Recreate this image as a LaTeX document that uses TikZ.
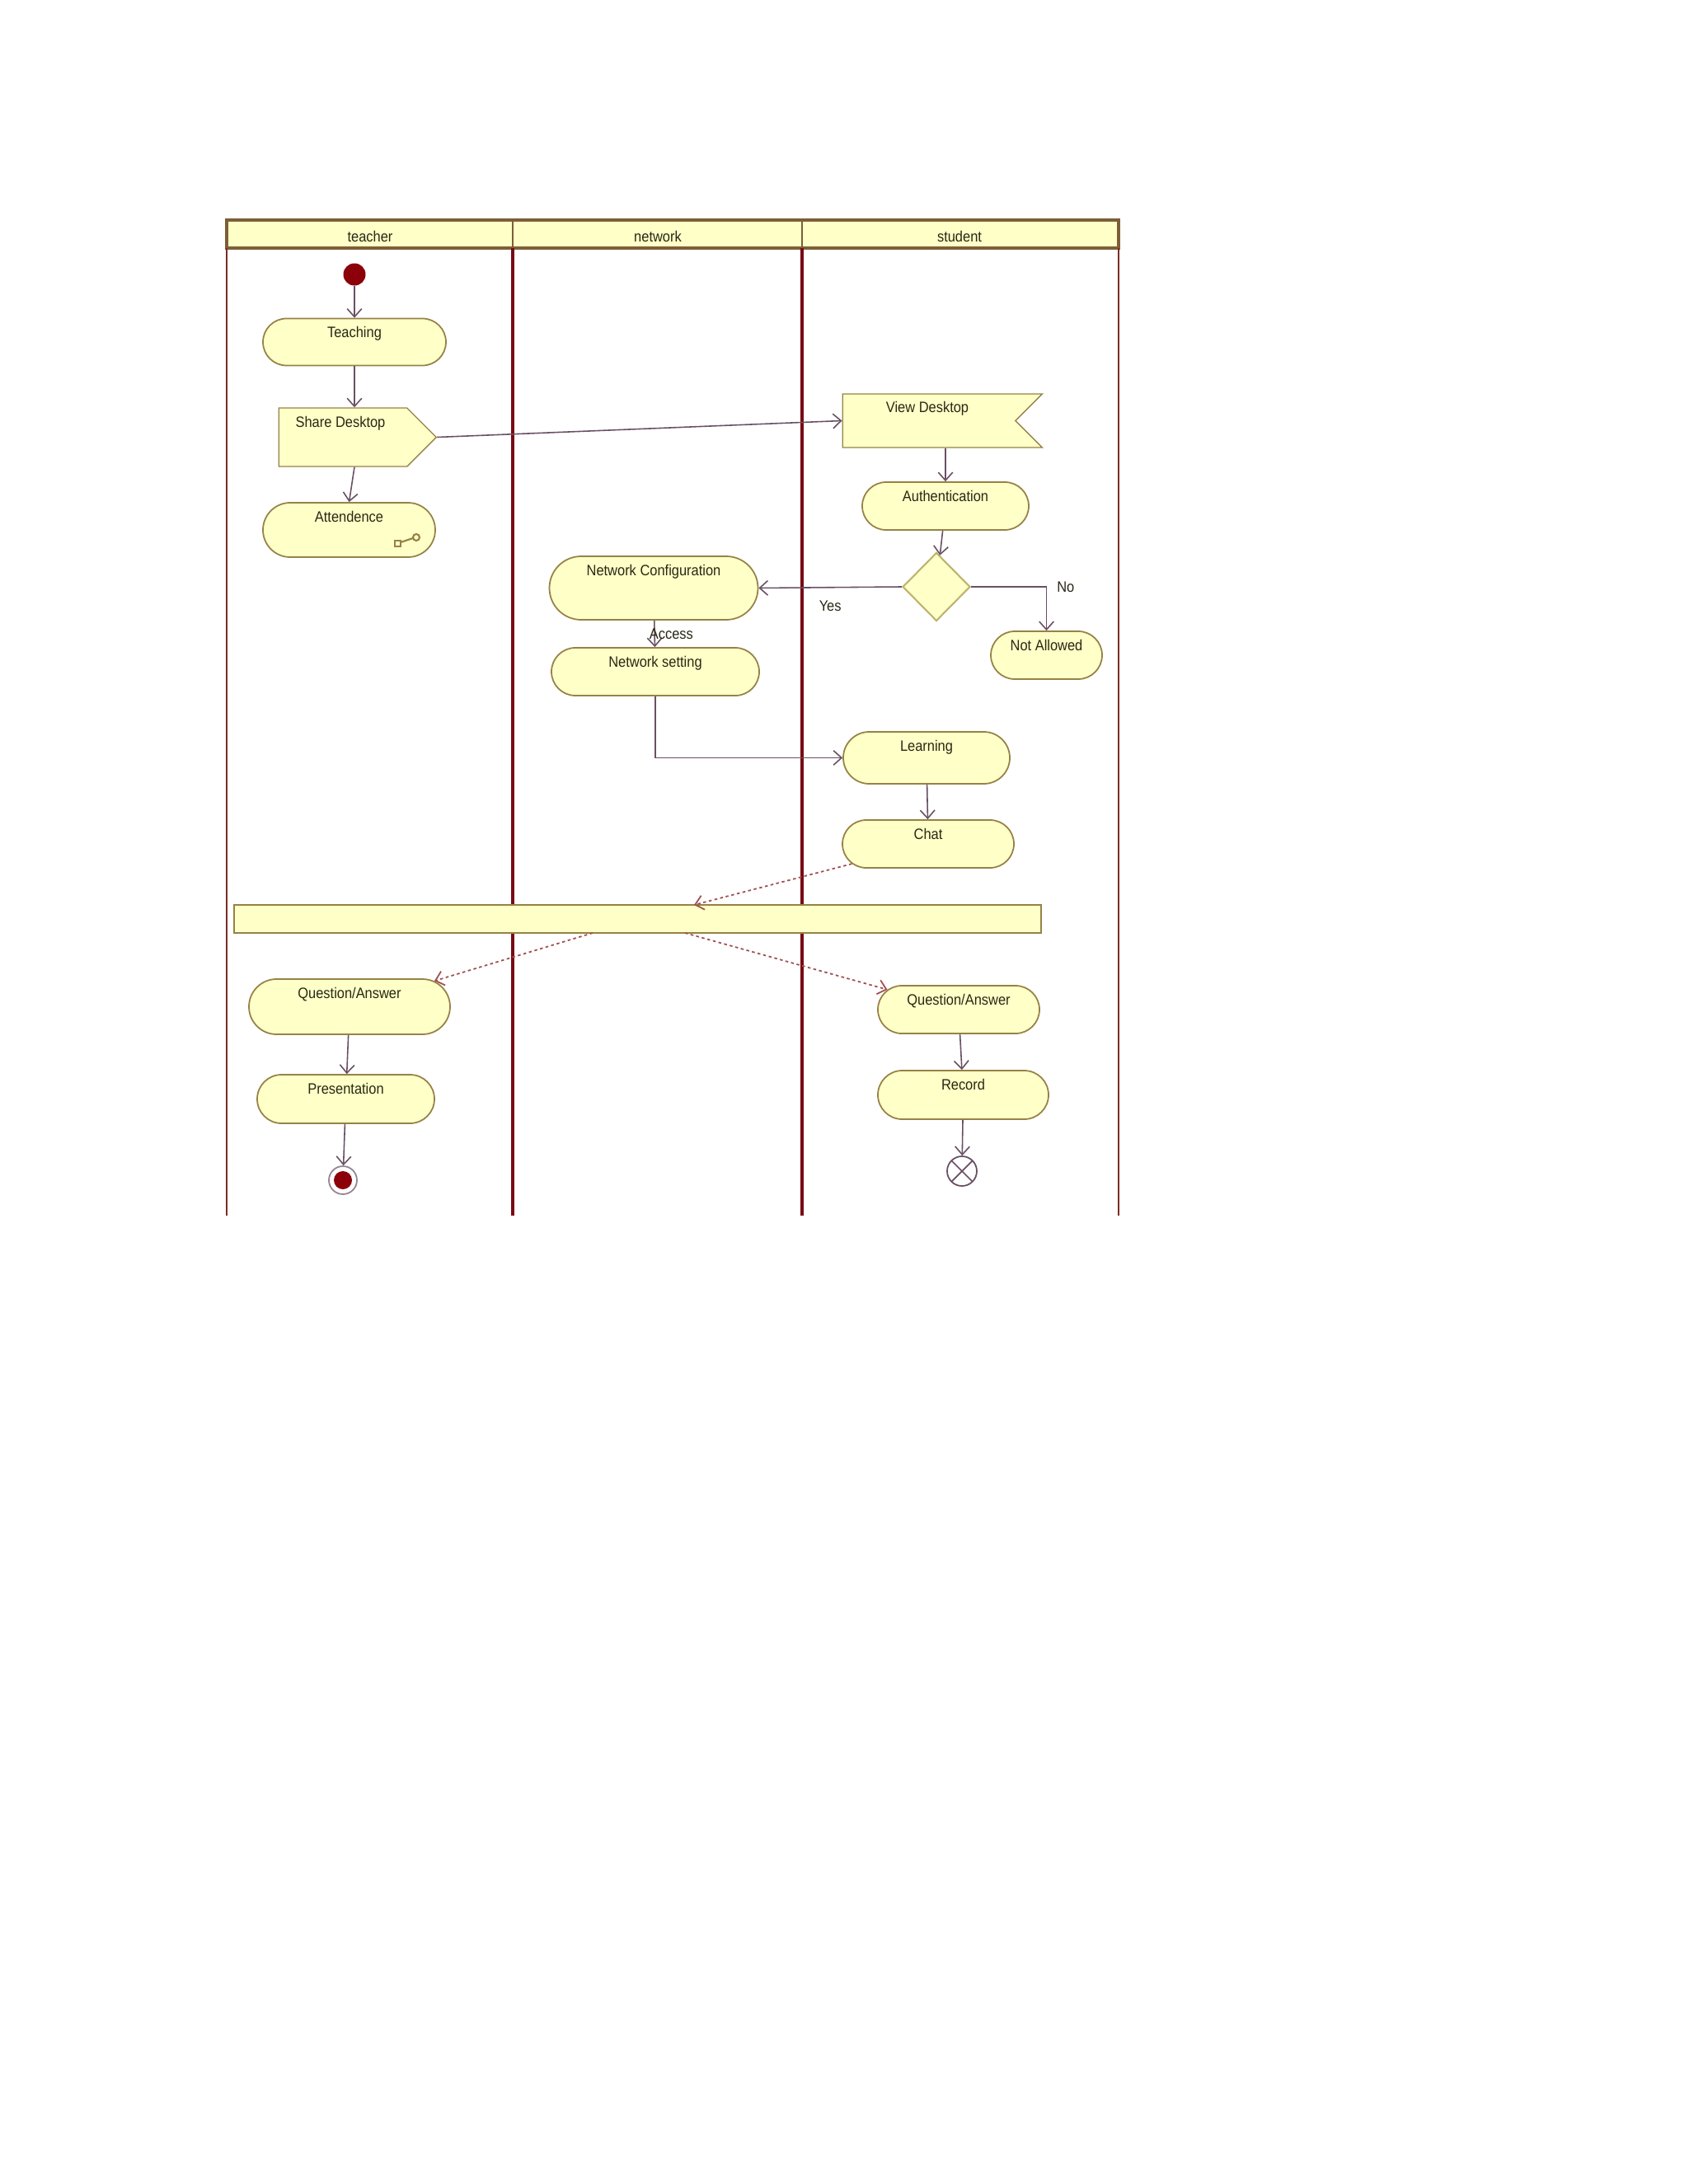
\documentclass[tikz,border=0pt]{standalone}
\usepackage{fontspec}
\setmainfont{Liberation Sans}[FakeStretch=0.9]
\usepackage{xcolor}
\usetikzlibrary{shapes.misc,shapes.symbols,shapes.geometric,arrows.meta}

\definecolor{actfill}{RGB}{255,255,200}
\definecolor{actline}{RGB}{150,130,70}
\definecolor{decline}{RGB}{190,180,110}
\definecolor{laneline}{RGB}{120,10,20}
\definecolor{headline}{RGB}{125,95,55}
\definecolor{flowline}{RGB}{105,80,100}
\definecolor{dashline}{RGB}{160,80,80}
\definecolor{startred}{RGB}{140,0,10}
\definecolor{txt}{RGB}{40,40,20}

\newcommand{\umlfont}{\fontsize{5.2}{6}\selectfont}

\tikzset{
    act/.style={rounded rectangle, draw=actline, fill=actfill, inner sep=0pt, line width=0.5pt},
    acttext/.style={anchor=north, inner sep=0pt, yshift=-0.1cm, font=\umlfont, text=txt},
    lbl/.style={inner sep=0pt, font=\umlfont, text=txt},
    flow/.style={draw=flowline, line width=0.45pt, -{Straight Barb[length=2.8pt,width=5pt]}},
    dflow/.style={draw=dashline, line width=0.5pt, dash pattern=on 1pt off 1pt, -{Straight Barb[length=2.8pt,width=5pt]}}
}

\begin{document}
\begin{tikzpicture}[x=1cm, y=-1cm]
        \useasboundingbox[fill=white] (0,0) rectangle (20.48,26.50);

        % swimlanes
        \draw[headline, line width=0.9pt, fill=actfill] (2.75,2.67) rectangle (13.57,3.01);
        \draw[headline, line width=0.7pt] (6.22,2.67) -- (6.22,3.01);
        \draw[headline, line width=0.7pt] (9.73,2.67) -- (9.73,3.01);
        \node (thead) at (4.49,2.87) [lbl] {teacher};
        \node (nhead) at (7.98,2.87) [lbl] {network};
        \node (shead) at (11.64,2.87) [lbl] {student};

        \draw[laneline!60!headline, line width=0.6pt] (2.75,3.01) -- (2.75,14.75);
        \draw[laneline!60!headline, line width=0.6pt] (13.57,3.01) -- (13.57,14.75);
        \draw[laneline, line width=1.4pt] (6.22,3.01) -- (6.22,14.75);
        \draw[laneline, line width=1.4pt] (9.73,3.01) -- (9.73,14.75);

        % teacher
        \node (init) at (4.30,3.33) [circle, fill=startred, minimum size=0.27cm, inner sep=0pt] {};
        \node (teach) at (4.30,4.15) [act, minimum width=2.22cm, minimum height=0.57cm, label={[acttext]north:Teaching}] {};
        \node (share) at (4.16,5.305) [signal, signal to=east, draw=actline, fill=actfill, inner sep=0pt,
            minimum width=1.91cm, minimum height=0.71cm, label={[acttext, xshift=-0.03cm]north:Share Desktop}] {};
        \node (attend) at (4.235,6.43) [act, minimum width=2.09cm, minimum height=0.66cm, label={[acttext]north:Attendence}] {};
        \draw[actline, line width=0.6pt] (4.79,6.56) rectangle (4.86,6.63);
        \draw[actline, line width=0.6pt] (5.05,6.52) circle (0.04cm);
        \draw[actline, line width=0.6pt] (4.86,6.58) -- (5.01,6.53);

        % student
        \node (view) at (11.27,5.105) [signal, signal to=nowhere, signal from=east, draw=actline, fill=actfill, inner sep=0pt,
            minimum width=2.42cm, minimum height=0.65cm, label={[acttext, yshift=0.01cm, xshift=-0.02cm]north:View Desktop}] {};
        \node (auth) at (11.47,6.14) [act, minimum width=2.02cm, minimum height=0.58cm, label={[acttext]north:Authentication}] {};
        \node (dec) at (11.36,7.12) [diamond, draw=decline, fill=actfill, line width=0.6pt, inner sep=0pt,
            minimum width=0.82cm, minimum height=0.83cm] {};
        \node (notal) at (12.695,7.95) [act, minimum width=1.35cm, minimum height=0.58cm, label={[acttext]north:Not Allowed}] {};
        \node (learn) at (11.24,9.195) [act, minimum width=2.02cm, minimum height=0.63cm, label={[acttext]north:Learning}] {};
        \node (chat) at (11.26,10.24) [act, minimum width=2.08cm, minimum height=0.58cm, label={[acttext]north:Chat}] {};

        % network
        \node (netconf) at (7.93,7.135) [act, minimum width=2.53cm, minimum height=0.77cm, label={[acttext]north:Network Configuration}] {};
        \node (netset) at (7.95,8.15) [act, minimum width=2.52cm, minimum height=0.58cm, label={[acttext]north:Network setting}] {};

        % fork bar
        \node (bar) at (7.735,11.15) [rectangle, draw=actline, fill=actfill, line width=0.5pt, inner sep=0pt,
            minimum width=9.79cm, minimum height=0.34cm] {};
        \coordinate (joinin) at (8.42,10.98);
        \coordinate (forkl) at (7.19,11.32);
        \coordinate (forkr) at (8.31,11.32);

        \node (qal) at (4.24,12.215) [act, minimum width=2.44cm, minimum height=0.67cm, label={[acttext]north:Question/Answer}] {};
        \node (pres) at (4.195,13.335) [act, minimum width=2.15cm, minimum height=0.59cm, label={[acttext]north:Presentation}] {};
        \node (fin) at (4.16,14.32) [circle, draw=flowline!70, fill=white, line width=0.5pt, minimum size=0.34cm, inner sep=0pt,
            path picture={\fill[startred] (path picture bounding box.center) circle (0.11cm);}] {};

        \node (qar) at (11.63,12.25) [act, minimum width=1.96cm, minimum height=0.58cm, label={[acttext]north:Question/Answer}] {};
        \node (rec) at (11.685,13.285) [act, minimum width=2.07cm, minimum height=0.59cm, label={[acttext]north:Record}] {};
        \node (ffin) at (11.67,14.21) [circle, draw=flowline, fill=white, line width=0.5pt, minimum size=0.36cm, inner sep=0pt,
            path picture={\draw[flowline, line width=0.5pt] (path picture bounding box.north west) -- (path picture bounding box.south east)
                (path picture bounding box.north east) -- (path picture bounding box.south west);}] {};

        % flows
        \draw[flow] (init) -- (teach);
        \draw[flow] (teach) -- (teach |- share.north);
        \draw[flow] (share.south -| teach) -- (attend.north);
        \draw[flow] (share.east) -- (view.west);
        \draw[flow] (auth |- view.south) -- (auth);
        \draw[flow] (auth) -- (dec);
        \draw[flow] (dec.west) -- node[lbl, below, yshift=-0.15cm] {Yes} (netconf.east);
        \draw[flow] (dec.east) -| node[lbl, anchor=west, pos=0.5, xshift=0.12cm] {No} (notal.north);
        \draw[flow] (netconf) -- node[lbl, anchor=west, xshift=-0.07cm] {Access} (netset);
        \draw[flow] (netset.south) |- (learn.west);
        \draw[flow] (learn) -- (chat);

        \draw[dflow] (chat) -- (joinin);
        \draw[dflow] (forkl) -- (qal);
        \draw[dflow] (forkr) -- (qar);

        \draw[flow] (qal) -- (pres);
        \draw[flow] (pres) -- (fin);
        \draw[flow] (qar) -- (rec);
        \draw[flow] (rec) -- (ffin);
    \end{tikzpicture}
\end{document}
